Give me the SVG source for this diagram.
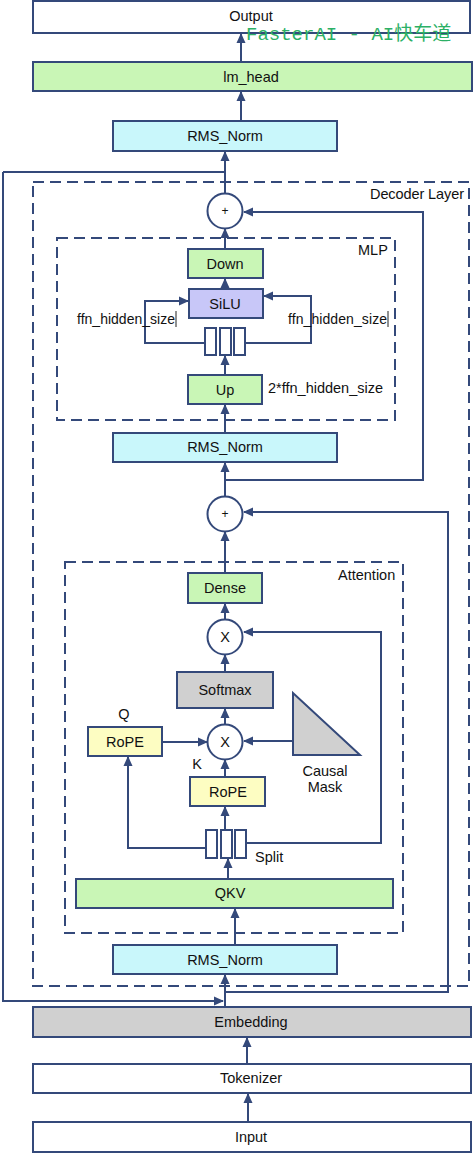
<svg xmlns="http://www.w3.org/2000/svg" width="474" height="1155" viewBox="0 0 474 1155">
<style>
.b{stroke:#34497a;stroke-width:2}
.w{fill:#ffffff}
.g{fill:#c9f6b6}
.c{fill:#c9f7fb}
.s{fill:#d0d0d0}
.y{fill:#fdfdc2}
.p{fill:#c8c7f8}
.d{fill:none;stroke:#34497a;stroke-width:2;stroke-dasharray:11,6}
.t{font-family:"Liberation Sans",Arial,sans-serif;font-size:14.5px;fill:#111;text-anchor:middle;dominant-baseline:central}
.l{font-family:"Liberation Sans",Arial,sans-serif;font-size:14.5px;fill:#111;dominant-baseline:central}
.k{fill:none;stroke:#34497a;stroke-width:2}
.a{marker-end:url(#arr)}
</style>
<defs>
<marker id="arr" markerWidth="10" markerHeight="10" refX="9" refY="5" orient="auto" markerUnits="userSpaceOnUse"><path d="M0,0.5 L10,5 L0,9.5 z" fill="#34497a"/></marker>
</defs>
<g id="decoder"><rect class="d" x="33" y="182" width="436" height="804"/><text class="l" x="370" y="194" textLength="94">Decoder Layer</text></g>
<g id="mlp"><rect class="d" x="57" y="238" width="338" height="182"/><text class="l" x="358" y="250">MLP</text></g>
<g id="attention"><rect class="d" x="65" y="562" width="338" height="371"/><text class="l" x="338" y="575">Attention</text></g>
<g id="connectors" class="k">
<path class="a" d="M241,62 V34"/>
<path class="a" d="M241,121 V92"/>
<path class="a" d="M225,193 V152"/>
<path d="M3,172 H225"/>
<path class="a" d="M3,172 V1001 H223"/>
<path class="a" d="M225,480 H423 V212 H244"/>
<path class="a" d="M225,249 V229"/>
<path class="a" d="M225,289 V279"/>
<path class="a" d="M205,343 H145 V301 H188"/>
<path class="a" d="M245,343 H311 V296 H264"/>
<path class="a" d="M225,375 V356"/>
<path class="a" d="M225,433 V405"/>
<path class="a" d="M225,497 V463"/>
<path class="a" d="M225,992 H448 V512 H244"/>
<path class="a" d="M225,573 V532"/>
<path class="a" d="M225,620 V604"/>
<path class="a" d="M247,843 H381 V632 H244"/>
<path class="a" d="M225,672 V655"/>
<path class="a" d="M225,725 V709"/>
<path class="a" d="M162,742 H207"/>
<path class="a" d="M293,741 H244"/>
<path class="a" d="M225,777 V760"/>
<path class="a" d="M225,830 V807"/>
<path class="a" d="M206,848 H128 V757"/>
<path class="a" d="M228,879 V859"/>
<path class="a" d="M235,945 V909"/>
<path class="a" d="M225,1007 V975"/>
<path class="a" d="M247,1064 V1038"/>
<path class="a" d="M248,1122 V1094"/>
</g>
<g id="output"><rect class="b w" x="33" y="1" width="437" height="32"/><text class="t" x="251" y="16">Output</text></g>
<g id="watermark"><text x="246" y="34.5" style="font-family:'Liberation Mono','Noto Sans CJK SC',monospace;font-size:19px;fill:#2cb066;dominant-baseline:central">FasterAI - AI快车道</text></g>
<g id="lm_head"><rect class="b g" x="33" y="62" width="439" height="29"/><text class="t" x="251" y="77">lm_head</text></g>
<g id="rms_top"><rect class="b c" x="113" y="121" width="224" height="30"/><text class="t" x="225" y="136">RMS_Norm</text></g>
<g id="add_mlp"><circle class="b w" cx="225" cy="211" r="17.5"/><text class="t" x="225" y="211" style="font-size:12px">+</text></g>
<g id="down"><rect class="b g" x="188" y="249" width="75" height="29"/><text class="t" x="225" y="264">Down</text></g>
<g id="silu"><rect class="b p" x="189" y="289" width="74" height="29"/><text class="t" x="225" y="304">SiLU</text></g>
<g id="split_mlp" class="k"><rect x="205" y="328" width="11" height="27"/><rect x="220" y="328" width="11" height="27"/><rect x="234" y="328" width="11" height="27"/></g>
<g id="ffn_left"><text class="l" x="77" y="319" textLength="98" style="font-size:14px">ffn_hidden_size</text><path d="M176,311 V327" stroke="#222" stroke-width="1"/></g>
<g id="ffn_right"><text class="l" x="288" y="319" textLength="99" style="font-size:14px">ffn_hidden_size</text><path d="M388,311 V327" stroke="#222" stroke-width="1"/></g>
<g id="up"><rect class="b g" x="188" y="375" width="74" height="29"/><text class="t" x="225" y="390">Up</text></g>
<g id="up_label"><text class="l" x="268" y="388">2*ffn_hidden_size</text></g>
<g id="rms_mid"><rect class="b c" x="113" y="433" width="224" height="29"/><text class="t" x="225" y="447">RMS_Norm</text></g>
<g id="add_attn"><circle class="b w" cx="225" cy="514" r="17.5"/><text class="t" x="225" y="514" style="font-size:12px">+</text></g>
<g id="dense"><rect class="b g" x="188" y="573" width="74" height="30"/><text class="t" x="225" y="588">Dense</text></g>
<g id="mul_v"><circle class="b w" cx="225" cy="637" r="17.5"/><text class="t" x="225" y="637">X</text></g>
<g id="softmax"><rect class="b s" x="177" y="672" width="96" height="36"/><text class="t" x="225" y="690">Softmax</text></g>
<g id="mul_qk"><circle class="b w" cx="225" cy="742" r="17.5"/><text class="t" x="225" y="742">X</text></g>
<g id="rope_q"><rect class="b y" x="88" y="727" width="74" height="29"/><text class="t" x="125" y="742">RoPE</text><text class="t" x="124" y="714">Q</text></g>
<g id="mask"><polygon class="b s" points="293,693 293,755 360,755"/><text class="t" x="325" y="771">Causal</text><text class="t" x="325" y="787">Mask</text></g>
<g id="rope_k"><rect class="b y" x="190" y="777" width="75" height="29"/><text class="t" x="228" y="792">RoPE</text><text class="t" x="197" y="764">K</text></g>
<g id="split_attn" class="k"><rect x="206" y="830" width="11" height="28"/><rect x="221" y="830" width="11" height="28"/><rect x="235" y="830" width="11" height="28"/></g>
<g id="split_label"><text class="l" x="255" y="857">Split</text></g>
<g id="qkv"><rect class="b g" x="76" y="879" width="317" height="29"/><text class="t" x="230" y="893">QKV</text></g>
<g id="rms_bottom"><rect class="b c" x="113" y="945" width="224" height="29"/><text class="t" x="225" y="960">RMS_Norm</text></g>
<g id="embedding"><rect class="b s" x="33" y="1007" width="438" height="30"/><text class="t" x="251" y="1022">Embedding</text></g>
<g id="tokenizer"><rect class="b w" x="33" y="1064" width="438" height="29"/><text class="t" x="251" y="1078">Tokenizer</text></g>
<g id="input"><rect class="b w" x="33" y="1122" width="438" height="30"/><text class="t" x="251" y="1137">Input</text></g>
</svg>
